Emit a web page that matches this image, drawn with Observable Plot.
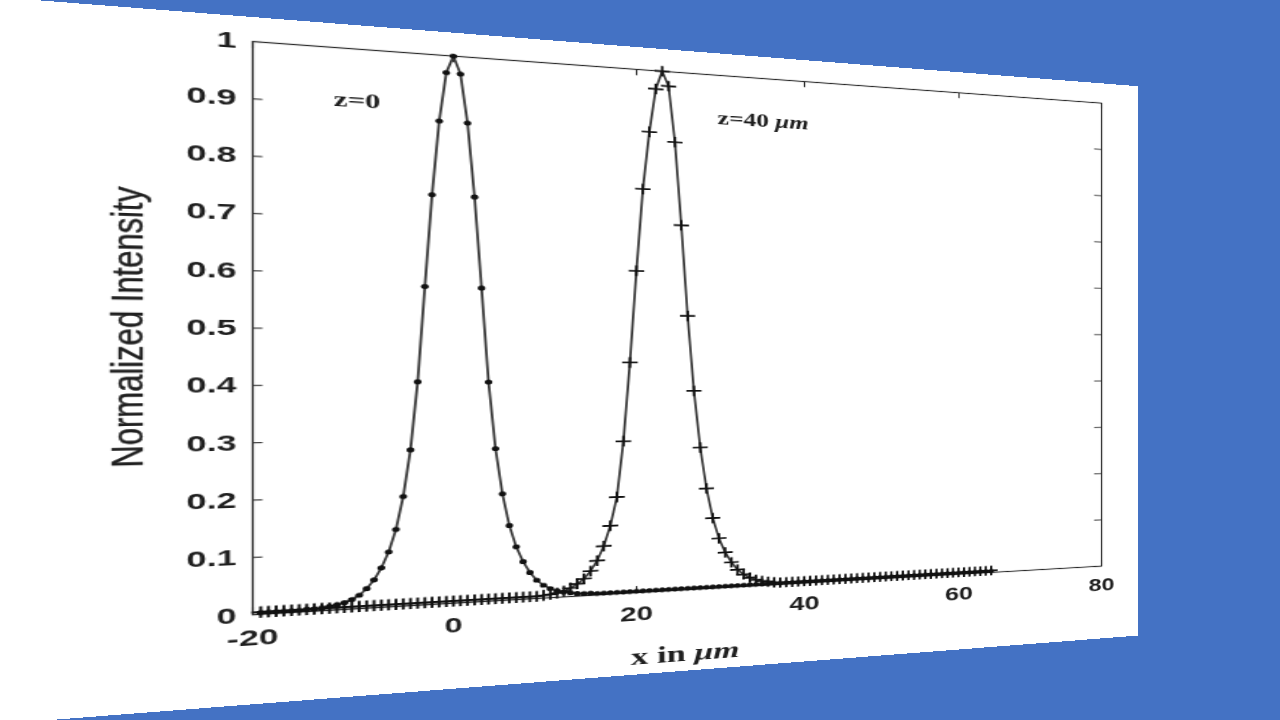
<!DOCTYPE html>
<html><head><meta charset="utf-8">
<script src="https://cdn.jsdelivr.net/npm/d3@7"></script>
<script src="https://cdn.jsdelivr.net/npm/@observablehq/plot@0.6"></script>
<style>
html,body{margin:0;padding:0;width:1280px;height:720px;overflow:hidden;background:#4472C4;}
#card{position:absolute;left:0;top:0;background:#fff;transform-origin:0 0;}
#card svg{display:block;}
</style></head><body><div id="card"></div>
<script>
// ---- data ----
const xTicks = [-20, 0, 20, 40, 60, 80];
const yTicks = [0, 0.1, 0.2, 0.3, 0.4, 0.5, 0.6, 0.7, 0.8, 0.9, 1];

const xs = [
-19.24,-18.5,-17.76,-17.02,-16.28,-15.54,-14.8,-14.06,-13.32,-12.58,-11.84,-11.1,-10.36,-9.62,-8.88,-8.14,-7.4,-6.66,-5.92,-5.18,-4.44,-3.7,-2.96,-2.22,-1.48,-0.74,
0,0.74,1.48,2.22,2.96,3.7,4.44,5.18,5.92,6.66,7.4,8.14,8.88,9.62,10.36,11.1,11.84,12.58,13.32,14.06,14.8,15.54,16.28,17.02,17.76,18.5,19.24,19.98,20.72,21.46,
22.2,22.94,23.68,24.42,25.16,25.9,26.64,27.38,28.12,28.86,29.6,30.34,31.08,31.82,32.56,33.3,34.04,34.78,35.52,36.26,37.0,37.74,38.48,39.22,39.96,40.7,41.44,42.18,
42.92,43.66,44.4,45.14,45.88,46.62,47.36,48.1,48.84,49.58,50.32,51.06,51.8,52.54,53.28,54.02,54.76,55.5,56.24,56.98,57.72,58.46,59.2,59.94,60.68,61.42,62.16,62.9,63.64,64.38];

// z = 0 (dots)
const intensityZ0 = [
0.003,0.003,0.003,0.003,0.003,0.003,
0.004,0.004,0.005,0.007,0.009,0.012,0.017,0.024,0.035,0.050,0.071,0.099,0.139,0.198,0.282,0.405,0.578,0.745,0.880,0.969,
1.0,
0.968,0.879,0.744,0.577,0.404,0.281,0.197,0.138,0.098,0.070,0.049,0.034,0.024,0.017,0.012,0.009,0.007,0.005,0.004,0.004,
0.003,0.003,0.003,0.003,0.003,0.003,0.003,0.003,0.003,0.003,0.003,0.003,0.003,0.003,0.003,0.003,0.003,0.003,0.003,0.003,
0.003,0.003,0.003,0.003,0.003,0.003,0.003,0.003,0.003,0.003,0.003,0.003,0.003,0.003,0.003,0.003,0.003,0.003,0.003,0.003,
0.003,0.003,0.003,0.003,0.003,0.003,0.003,0.003,0.003,0.003,0.003,0.003,0.003,0.003,0.003,0.003,0.003,0.003,0.003,0.003,
0.003,0.003,0.003,0.003,0.003,0.003,0.003];

// z = 40 um (plus markers)
const intensityZ40 = [
0.004,0.004,0.004,0.004,0.004,0.004,0.004,0.004,0.004,0.004,0.004,0.004,0.004,0.004,0.004,0.004,0.004,0.004,0.004,0.004,
0.004,0.004,0.004,0.004,0.004,0.004,0.004,0.004,0.004,0.004,0.004,0.004,0.004,0.004,0.004,0.004,0.004,0.004,0.004,
0.005,0.006,0.008,0.011,0.016,0.023,0.032,0.046,0.065,0.092,0.130,0.184,0.290,0.440,0.615,0.772,0.882,0.965,
1.0,
0.972,0.865,0.705,0.530,0.385,0.275,0.195,0.137,0.097,0.069,0.049,0.034,0.024,0.017,0.012,0.009,0.007,0.005,
0.004,0.004,0.004,0.004,0.004,0.004,0.004,0.004,0.004,0.004,0.004,0.004,0.004,0.004,0.004,0.004,0.004,0.004,0.004,
0.004,0.004,0.004,0.004,0.004,0.004,0.004,0.004,0.004,0.004,0.004,0.004,0.004,0.004,0.004,0.004,0.004,0.004,0.004];

const labelZ0 = "z=0";
const labelZ40 = "z=40 μm";
const xLabel = "x in μm";
const yLabel = "Normalized Intensity";

// ---- chart ----
const W = 985, H = 687;
const ML = 300, MR = 35, MT = 24, MB = 90;
const ink = "#1f1f1f";
const sans = "'Liberation Sans', Arial, Helvetica, sans-serif";
const serif = "'Liberation Serif', 'Times New Roman', serif";
const titleLength = 273;

const seriesZ0 = xs.map((x, i) => ({x, y: intensityZ0[i]}));
const seriesZ40 = xs.map((x, i) => ({x, y: intensityZ40[i]}));

const plot = Plot.plot({
  width: W, height: H,
  marginLeft: ML, marginRight: MR, marginTop: MT, marginBottom: MB,
  x: {domain: [-20, 80]},
  y: {domain: [0, 1]},
  style: {background: "white", fontFamily: sans, color: ink, overflow: "visible"},
  marks: [
    Plot.frame({stroke: "#2a2a2a", strokeWidth: 1.25}),
    Plot.ruleY(yTicks, {y: d => d, x1: -20, x2: -19, stroke: "#2a2a2a", strokeWidth: 1.1}),
    Plot.ruleY(yTicks, {y: d => d, x1: 79, x2: 80, stroke: "#2a2a2a", strokeWidth: 1.1}),
    Plot.ruleX(xTicks, {x: d => d, y1: 0, y2: 0.012, stroke: "#2a2a2a", strokeWidth: 1.1}),
    Plot.ruleX(xTicks, {x: d => d, y1: 0.988, y2: 1, stroke: "#2a2a2a", strokeWidth: 1.1}),
    Plot.axisY({ticks: yTicks, tickSize: 0, tickPadding: 10, tickFormat: d => String(d),
      fontSize: 22, fontWeight: "bold", fill: ink, label: null}),
    Plot.axisX({ticks: xTicks, tickSize: 0, tickPadding: 15, tickFormat: d => String(d),
      fontSize: 22, fontWeight: "bold", fill: ink, label: null}),
    Plot.line(seriesZ0, {x: "x", y: "y", stroke: "#3a3a3a", strokeWidth: 1.8}),
    Plot.dot(seriesZ0, {x: "x", y: "y", r: 2.6, fill: "#111", stroke: "none"}),
    Plot.line(seriesZ40, {x: "x", y: "y", stroke: "#3a3a3a", strokeWidth: 1.8}),
    Plot.dot(seriesZ40, {x: "x", y: "y", symbol: "plus", r: 3.8, stroke: "#111", strokeWidth: 1.9}),
    Plot.text([labelZ0], {x: -12.15, y: 0.897, text: d => d, textAnchor: "start", lineAnchor: "bottom",
      fontFamily: serif, fontWeight: "bold", fontSize: 20, fill: ink}),
    Plot.text([labelZ40], {x: 29.44, y: 0.905, text: d => d, textAnchor: "start", lineAnchor: "bottom",
      fontFamily: serif, fontWeight: "bold", fontSize: 20, fill: ink}),
    Plot.text([xLabel], {x: 25.7, frameAnchor: "bottom", dy: 78, text: d => d, lineAnchor: "bottom",
      textAnchor: "middle", fontFamily: serif, fontWeight: "bold", fontSize: 26, fill: ink}),
    Plot.text([yLabel], {frameAnchor: "left", dx: -75, dy: titleLength / 2, rotate: -90, text: d => d,
      textAnchor: "start", fontFamily: sans, fontSize: 25, fill: ink, stroke: ink, strokeWidth: 0.3})
  ]
});

// rich text: italic unit, stretched y title
d3.select(plot).selectAll("text").each(function () {
  const s = this.textContent;
  const t = d3.select(this);
  if (s === yLabel) t.attr("textLength", titleLength).attr("lengthAdjust", "spacingAndGlyphs");
  if (s === labelZ40 || s === xLabel) {
    const head = s.replace("μm", "");
    t.text(null);
    t.append("tspan").text(head);
    t.append("tspan").attr("font-style", "italic").text("μm");
  }
});

const card = document.getElementById("card");
card.style.width = W + "px";
card.style.height = H + "px";
card.appendChild(plot);

// ---- perspective: map the flat frame onto the tilted frame ----
function homography(src, dst) {
  const A = [], b = [];
  for (let i = 0; i < 4; i++) {
    const [x, y] = src[i], [X, Y] = dst[i];
    A.push([x, y, 1, 0, 0, 0, -x * X, -y * X]); b.push(X);
    A.push([0, 0, 0, x, y, 1, -x * Y, -y * Y]); b.push(Y);
  }
  const n = 8;
  for (let c = 0; c < n; c++) {
    let p = c;
    for (let r = c + 1; r < n; r++) if (Math.abs(A[r][c]) > Math.abs(A[p][c])) p = r;
    [A[c], A[p]] = [A[p], A[c]]; [b[c], b[p]] = [b[p], b[c]];
    for (let r = 0; r < n; r++) {
      if (r === c) continue;
      const f = A[r][c] / A[c][c];
      for (let k = c; k < n; k++) A[r][k] -= f * A[c][k];
      b[r] -= f * b[c];
    }
  }
  return b.map((v, i) => v / A[i][i]);
}
const src = [[ML, MT], [W - MR, MT], [W - MR, H - MB], [ML, H - MB]];
const dst = [[252, 41], [1101, 102.7], [1101, 565.7], [252, 614.3]];
const h = homography(src, dst);
const m = [h[0], h[3], 0, h[6], h[1], h[4], 0, h[7], 0, 0, 1, 0, h[2], h[5], 0, 1];
card.style.transform = "matrix3d(" + m.join(",") + ")";
</script></body></html>
